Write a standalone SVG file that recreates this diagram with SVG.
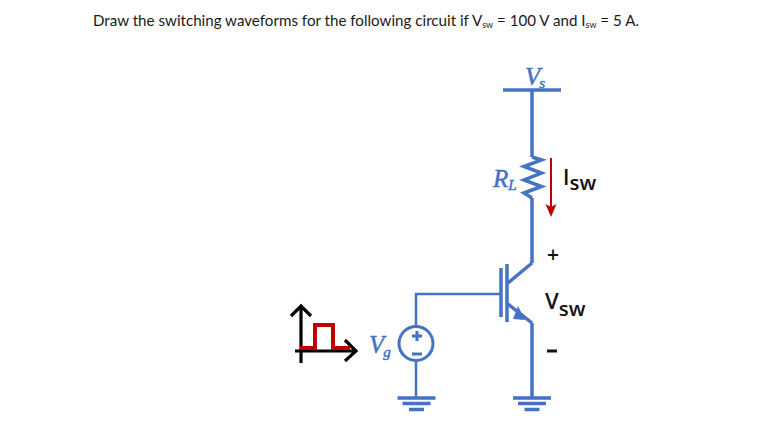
<svg xmlns="http://www.w3.org/2000/svg" width="759" height="436" viewBox="0 0 759 436">
<style>
.w{fill:none;stroke:#4472c4;stroke-width:3.5}
.t{font-family:Lato,"Open Sans",sans-serif;fill:#1a1a1a;font-size:15.15px}
.s{font-size:9px}
.m{font-family:"Liberation Serif",serif;font-style:italic;fill:#4472c4;stroke:#4472c4;stroke-width:.5;font-size:25px}
.ms{font-size:15px}
.l{font-family:"Open Sans",sans-serif;fill:#111;font-weight:600}
.k{fill:none;stroke:#000;stroke-width:3.2}
.r{fill:none;stroke:#c00000;stroke-width:4}
</style>
<defs>
<g id="gnd"><path d="M-19 0H19M-14 5.500H14M-7.500 11.500H7.500" fill="none" stroke="#4472c4" stroke-width="3.500"/></g>
</defs>
<text id="title" class="t" x="93" y="26">Draw the switching waveforms for the following circuit if V<tspan class="s" dy="2">sw</tspan><tspan dy="-2"> = 100 V and I</tspan><tspan class="s" dy="2">sw</tspan><tspan dy="-2"> = 5 A.</tspan></text>
<g id="connectors">
<path class="w" d="M532 90V157"/>
<path class="w" d="M532 198V263"/>
<path class="w" d="M532 323V397"/>
<path class="w" style="stroke-width:2.500" d="M501 294H416V325"/>
<path class="w" style="stroke-width:2.500" d="M416 360V397"/>
</g>
<g id="vs"><path class="w" d="M503 90H561"/><text class="m" x="525" y="85">V<tspan class="ms" dy="3" dx="-1">s</tspan></text></g>
<g id="rl">
<path class="w" d="M532 157L541.500 160L524 166.500L541.500 173L524 180L541.500 186.500L524 193L532 198"/>
<text class="m" x="493" y="187">R<tspan class="ms" dy="3">L</tspan></text>
</g>
<g id="isw">
<path d="M551 158V207" stroke="#c00000" stroke-width="2" fill="none"/>
<path d="M545.500 204L551 207L556.500 204L551 217Z" fill="#c00000"/>
<text class="l" x="563" y="185" font-size="21">I<tspan font-size="20.500" dy="5">sw</tspan></text>
</g>
<g id="igbt">
<path class="w" d="M532 263L508 283"/>
<path class="w" d="M508 304L532 323"/>
<path class="w" d="M507 264V322"/>
<path class="w" d="M501 268V317"/>
<path d="M513 319L518 306L525 320Z" fill="#4472c4"/>
</g>
<g id="vsw-labels">
<text class="l" x="553" y="262" font-size="21" text-anchor="middle">+</text>
<text class="l" x="545" y="309" font-size="22">V<tspan font-size="20.500" dy="7">sw</tspan></text>
<path d="M547 351H557" stroke="#111" stroke-width="3"/>
</g>
<g id="vg-source">
<circle cx="416" cy="343.500" r="17" fill="#fff" stroke="#4472c4" stroke-width="3"/>
<path d="M412 336H422M417 331V341M412 354H422" fill="none" stroke="#4472c4" stroke-width="3"/>
<text class="m" x="369" y="353">V<tspan class="ms" dy="4" dx="-1">g</tspan></text>
</g>
<g id="pulse">
<path class="k" d="M301 363V306M291 316L301 306L311 316M295 351H356M345 340L356 351L345 361"/>
<path class="r" d="M300 348H315V325H333V348H350"/>
</g>
<use id="gnd-left" href="#gnd" x="416.500" y="398"/>
<use id="gnd-right" href="#gnd" x="532" y="398"/>
</svg>
